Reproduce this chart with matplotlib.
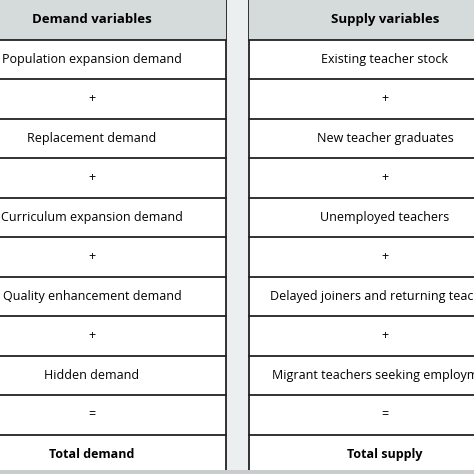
import matplotlib
matplotlib.use("Agg")
import matplotlib.pyplot as plt
from matplotlib.patches import Rectangle

headers = ["Demand variables", "Supply variables"]
demand_rows = ["Population expansion demand", "+", "Replacement demand", "+",
               "Curriculum expansion demand", "+", "Quality enhancement demand", "+",
               "Hidden demand", "=", "Total demand"]
supply_rows = ["Existing teacher stock", "+", "New teacher graduates", "+",
               "Unemployed teachers", "+", "Delayed joiners and returning teachers", "+",
               "Migrant teachers seeking employment", "=", "Total supply"]

W, H = 474, 474
row_h = H / 12.0
fig = plt.figure(figsize=(4.74, 4.74), dpi=100)
ax = fig.add_axes([0, 0, 1, 1])
ax.set_xlim(0, W)
ax.set_ylim(H, 0)
ax.axis("off")

font = "Open Sans"
# gap between the two tables
ax.add_patch(Rectangle((226, -5), 23, H + 10, facecolor="#eceff0", edgecolor="#222222", lw=1.3))
# header background
ax.add_patch(Rectangle((-5, -5), 231, row_h + 5, facecolor="#d5dada", edgecolor="none"))
ax.add_patch(Rectangle((249, -5), 230, row_h + 5, facecolor="#d5dada", edgecolor="none"))
# bottom grey band
ax.add_patch(Rectangle((-5, 470), W + 10, 10, facecolor="#c8cccc", edgecolor="none"))

for i in range(1, 12):
    y = i * row_h
    ax.plot([-5, 226], [y, y], color="#222222", lw=1.3)
    ax.plot([249, W + 5], [y, y], color="#222222", lw=1.3)

# text is centred on the full (cropped) table columns, so long labels run off the edge
lx, rx = 92, 385
ax.text(lx, row_h / 2, headers[0], ha="center", va="center", fontsize=9.5,
        fontweight="bold", family=font)
ax.text(rx, row_h / 2, headers[1], ha="center", va="center", fontsize=9.5,
        fontweight="bold", family=font)
for i, (d, s) in enumerate(zip(demand_rows, supply_rows)):
    y = (i + 1.5) * row_h
    bold = "bold" if i == len(demand_rows) - 1 else "normal"
    ax.text(lx, y, d, ha="center", va="center", fontsize=9, fontweight=bold,
            family=font, clip_on=True)
    ax.text(rx, y, s, ha="center", va="center", fontsize=9, fontweight=bold,
            family=font, clip_on=True)

fig.savefig("out.png", dpi=100)
